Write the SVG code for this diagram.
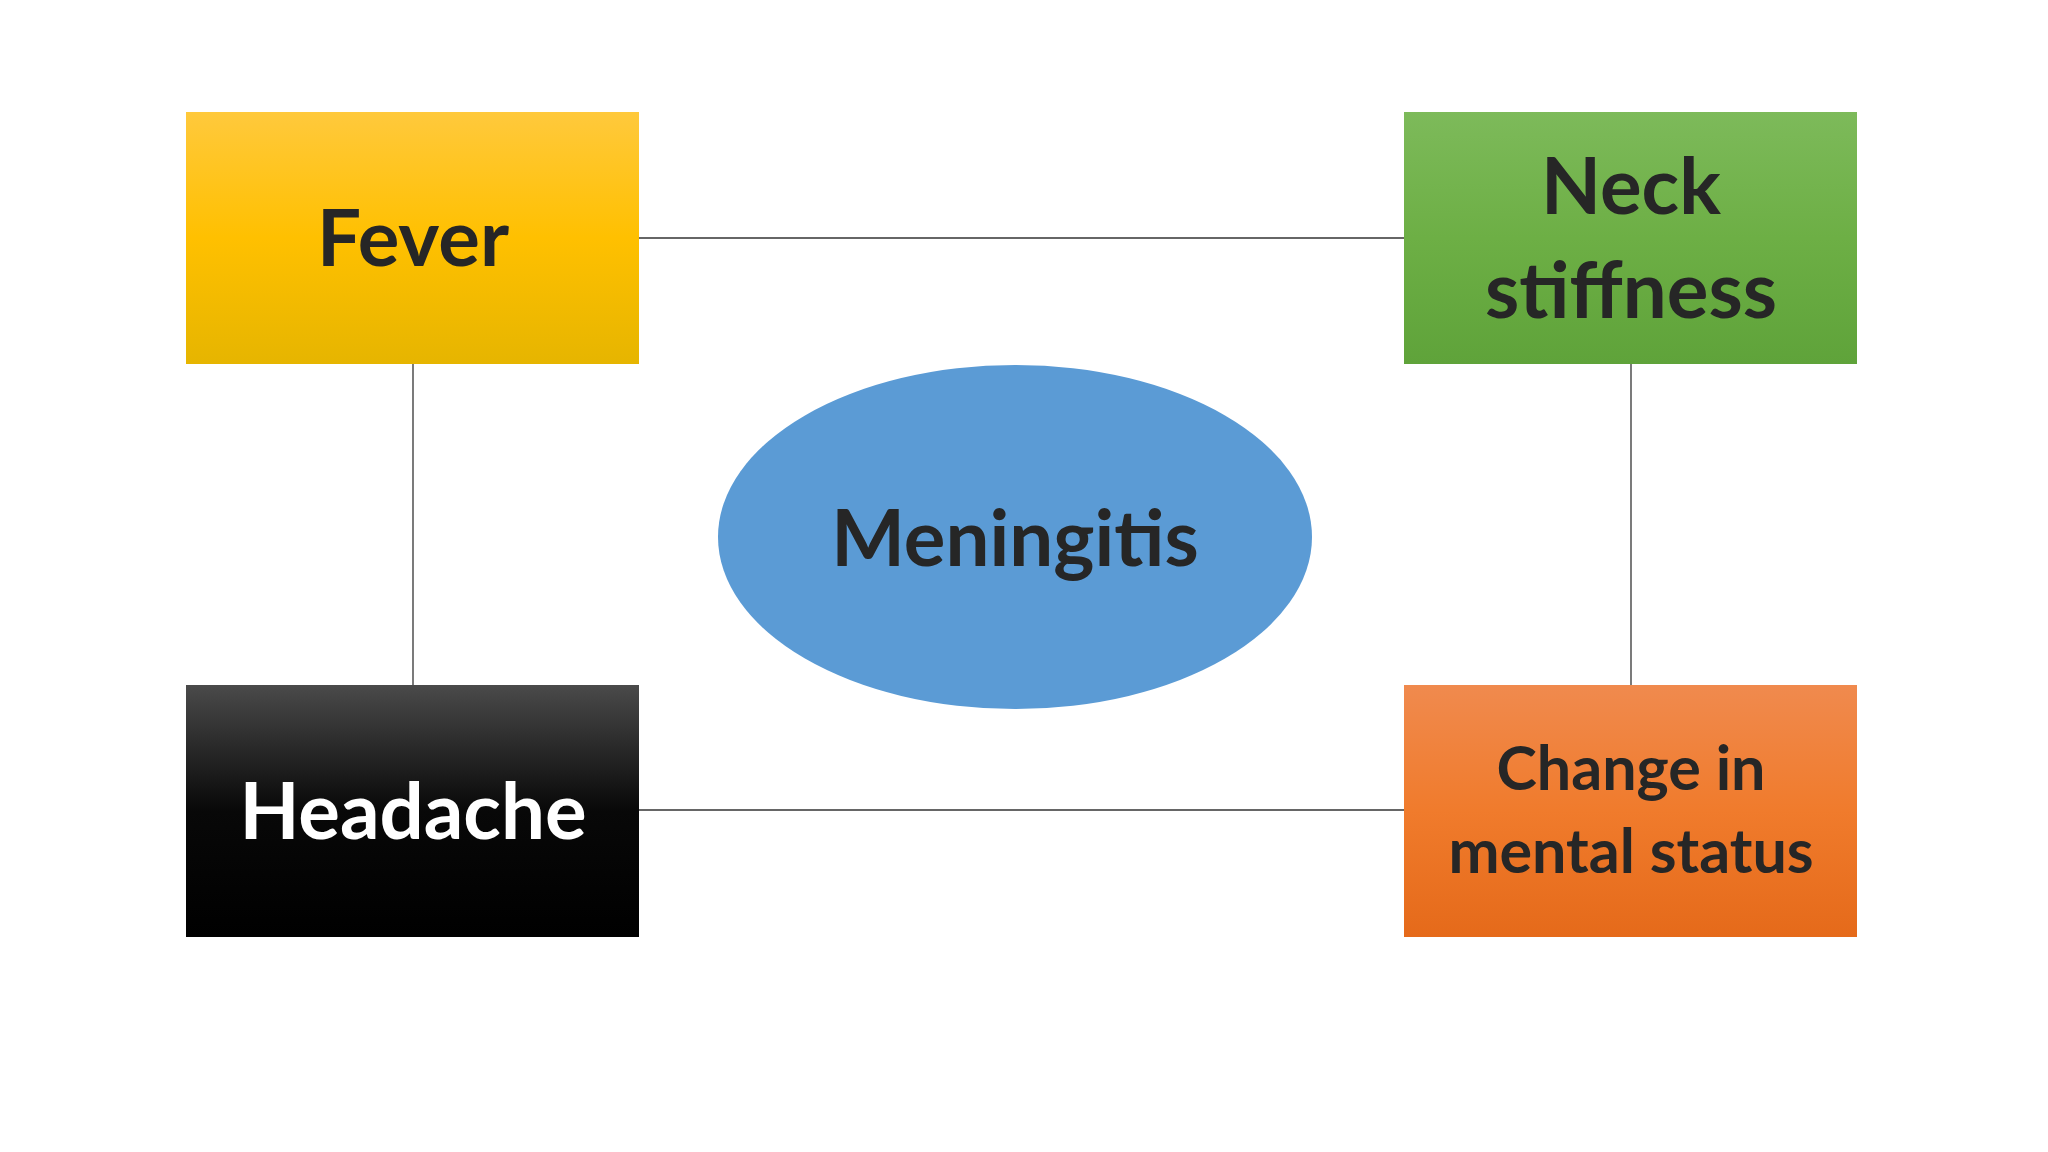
<svg xmlns="http://www.w3.org/2000/svg" width="2048" height="1152" viewBox="0 0 2048 1152">
<defs>
<linearGradient id="gy" x1="0" y1="0" x2="0" y2="1"><stop offset="0" stop-color="#FFC93C"/><stop offset="0.5" stop-color="#FFC000"/><stop offset="1" stop-color="#E6B500"/></linearGradient>
<linearGradient id="gg" x1="0" y1="0" x2="0" y2="1"><stop offset="0" stop-color="#7DBA5A"/><stop offset="0.5" stop-color="#6DAF45"/><stop offset="1" stop-color="#5FA33A"/></linearGradient>
<linearGradient id="gk" x1="0" y1="0" x2="0" y2="1"><stop offset="0" stop-color="#4A4A4A"/><stop offset="0.5" stop-color="#080808"/><stop offset="1" stop-color="#000"/></linearGradient>
<linearGradient id="go" x1="0" y1="0" x2="0" y2="1"><stop offset="0" stop-color="#F08A4E"/><stop offset="0.5" stop-color="#F07B2C"/><stop offset="1" stop-color="#E56A1A"/></linearGradient>
</defs>
<style>
text{font-family:Lato,"Open Sans",sans-serif;font-weight:bold;text-anchor:middle}
.c{stroke:#333;stroke-width:1.3;fill:none}
</style>
<rect width="2048" height="1152" fill="#fff"/>
<g id="connectors">
<line class="c" x1="639" y1="238" x2="1404" y2="238"/>
<line class="c" x1="639" y1="810" x2="1404" y2="810"/>
<line class="c" x1="413" y1="364" x2="413" y2="685"/>
<line class="c" x1="1631" y1="364" x2="1631" y2="685"/>
</g>
<g id="fever"><rect x="186" y="112" width="453" height="252" fill="url(#gy)"/><text x="413" y="266" font-size="78" fill="#262626">Fever</text></g>
<g id="neck"><rect x="1404" y="112" width="453" height="252" fill="url(#gg)"/><text x="1631" y="214" font-size="78" fill="#262626">Neck</text><text x="1631" y="318" font-size="78" fill="#262626">stiffness</text></g>
<g id="headache"><rect x="186" y="685" width="453" height="252" fill="url(#gk)"/><text x="413" y="839" font-size="78" fill="#fff">Headache</text></g>
<g id="change"><rect x="1404" y="685" width="453" height="252" fill="url(#go)"/><text x="1631" y="790" font-size="61" fill="#262626">Change in</text><text x="1631" y="873" font-size="61" fill="#262626">mental status</text></g>
<g id="meningitis"><ellipse cx="1015" cy="537" rx="297" ry="172" fill="#5B9BD5"/><text x="1015" y="566" font-size="78" fill="#262626">Meningitis</text></g>
</svg>
